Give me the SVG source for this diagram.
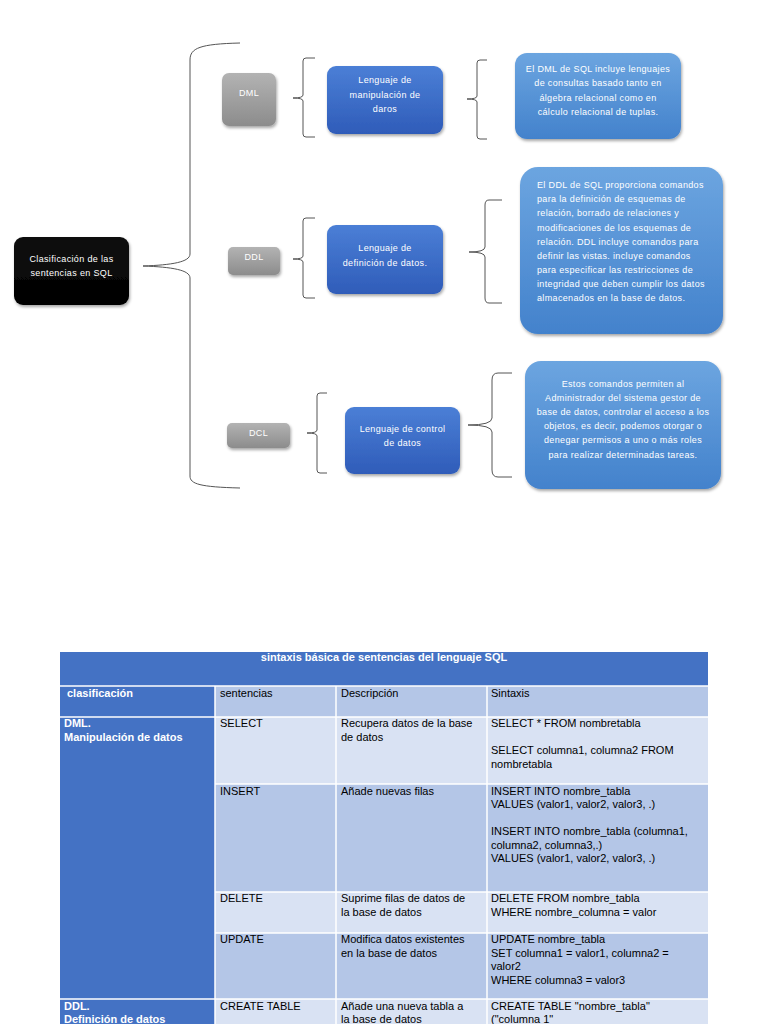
<svg xmlns="http://www.w3.org/2000/svg" width="768" height="1024" viewBox="0 0 768 1024">
<defs>
<linearGradient id="gGray" x1="0" y1="0" x2="0" y2="1"><stop offset="0" stop-color="#b3b3b3"/><stop offset="1" stop-color="#8c8c8c"/></linearGradient>
<linearGradient id="gBlue" x1="0" y1="0" x2="0" y2="1"><stop offset="0" stop-color="#4b7fd6"/><stop offset="1" stop-color="#2f5cb9"/></linearGradient>
<linearGradient id="gLight" x1="0" y1="0" x2="0" y2="1"><stop offset="0" stop-color="#6ca5e0"/><stop offset="1" stop-color="#4382cc"/></linearGradient>
<linearGradient id="gBlack" x1="0" y1="0" x2="0" y2="1"><stop offset="0" stop-color="#111"/><stop offset="1" stop-color="#000"/></linearGradient>
<filter id="sh" x="-20%" y="-20%" width="140%" height="150%"><feDropShadow dx="1" dy="2" stdDeviation="1.5" flood-color="#000" flood-opacity="0.35"/></filter>
</defs>
<style>
.br{fill:none;stroke:#555;stroke-width:1}
.bt{font-family:"Liberation Sans",Arial,sans-serif;font-size:9px;fill:#fff;letter-spacing:0.35px}
.tt{font-family:"Liberation Sans",Arial,sans-serif;font-size:11px;fill:#000}
.tw{font-family:"Liberation Sans",Arial,sans-serif;font-size:11px;fill:#fff;font-weight:bold}
.cl{stroke:#fff;stroke-width:1.5}
</style>
<g id="connectors">
<path class="br" d="M240,43 C200,44 190,48 190,60 L190,254 C190,262 172,265 143,266 C172,267 190,270 190,278 L190,476 C190,484 200,487 240,488"/>
<path class="br" d="M315,58 L306,58 Q303,58 303,61 L303,95 Q303,98 293,98 Q303,98 303,101 L303,134 Q303,137 306,137 L315,137"/>
<path class="br" d="M315,218 L306,218 Q303,218 303,221 L303,256 Q303,259 293,259 Q303,259 303,262 L303,295 Q303,298 306,298 L315,298"/>
<path class="br" d="M327,393 L320,393 Q317,393 317,396 L317,430 Q317,433 307,433 Q317,433 317,436 L317,470 Q317,473 320,473 L327,473"/>
<path class="br" d="M487,60 L480,60 Q477,60 477,63 L477,96 Q477,99 467,99 Q477,99 477,102 L477,136 Q477,139 480,139 L487,139"/>
<path class="br" d="M502,200 L489,200 Q485,200 485,205 L485,247 Q485,252 469,252 Q485,252 485,257 L485,298 Q485,303 489,303 L502,303"/>
<path class="br" d="M512,373 L498,373 Q492,373 492,380 L492,418 Q492,425 468,425 Q492,425 492,432 L492,470 Q492,477 498,477 L512,477"/>
</g>
<g id="root">
<rect x="14" y="237" width="115" height="68" rx="9" fill="url(#gBlack)" filter="url(#sh)"/>
<text class="bt" x="71.5" y="262" text-anchor="middle">Clasificación de las</text>
<text class="bt" x="71.5" y="276" text-anchor="middle">sentencias en SQL</text>
</g>
<g id="dml">
<rect x="222" y="73" width="54" height="53" rx="7" fill="url(#gGray)" filter="url(#sh)"/>
<text class="bt" x="249" y="96" text-anchor="middle">DML</text>
</g>
<g id="ddl">
<rect x="228" y="247" width="52" height="28" rx="5" fill="url(#gGray)" filter="url(#sh)"/>
<text class="bt" x="254" y="260" text-anchor="middle">DDL</text>
</g>
<g id="dcl">
<rect x="227" y="423" width="63" height="25" rx="5" fill="url(#gGray)" filter="url(#sh)"/>
<text class="bt" x="258.5" y="436" text-anchor="middle">DCL</text>
</g>
<g id="dml-lang">
<rect x="327" y="66" width="116" height="68" rx="9" fill="url(#gBlue)" filter="url(#sh)"/>
<text class="bt" x="385" y="83" text-anchor="middle">Lenguaje de</text>
<text class="bt" x="385" y="98" text-anchor="middle">manipulación de</text>
<text class="bt" x="385" y="112" text-anchor="middle">daros</text>
</g>
<g id="ddl-lang">
<rect x="327" y="225" width="116" height="69" rx="9" fill="url(#gBlue)" filter="url(#sh)"/>
<text class="bt" x="385" y="251" text-anchor="middle">Lenguaje de</text>
<text class="bt" x="385" y="266" text-anchor="middle">definición de datos.</text>
</g>
<g id="dcl-lang">
<rect x="345" y="407" width="115" height="67" rx="9" fill="url(#gBlue)" filter="url(#sh)"/>
<text class="bt" x="402.5" y="432" text-anchor="middle">Lenguaje de control</text>
<text class="bt" x="402.5" y="446" text-anchor="middle">de datos</text>
</g>
<g id="dml-desc">
<rect x="515" y="53" width="166" height="86" rx="12" fill="url(#gLight)" filter="url(#sh)"/>
<text class="bt" x="598" y="72" text-anchor="middle">El DML de SQL incluye lenguajes</text>
<text class="bt" x="598" y="86" text-anchor="middle">de consultas basado tanto en</text>
<text class="bt" x="598" y="101" text-anchor="middle">álgebra relacional como en</text>
<text class="bt" x="598" y="115" text-anchor="middle">cálculo relacional de tuplas.</text>
</g>
<g id="ddl-desc">
<rect x="520" y="167" width="203" height="167" rx="18" fill="url(#gLight)" filter="url(#sh)"/>
<text class="bt" x="537" y="188">El DDL de SQL proporciona comandos</text>
<text class="bt" x="537" y="202">para la definición de esquemas de</text>
<text class="bt" x="537" y="216">relación, borrado de relaciones y</text>
<text class="bt" x="537" y="231">modificaciones de los esquemas de</text>
<text class="bt" x="537" y="245">relación. DDL incluye comandos para</text>
<text class="bt" x="537" y="259">definir las vistas. incluye comandos</text>
<text class="bt" x="537" y="273">para especificar las restricciones de</text>
<text class="bt" x="537" y="287">integridad que deben cumplir los datos</text>
<text class="bt" x="537" y="301">almacenados en la base de datos.</text>
</g>
<g id="dcl-desc">
<rect x="525" y="361" width="196" height="128" rx="16" fill="url(#gLight)" filter="url(#sh)"/>
<text class="bt" x="623" y="387" text-anchor="middle">Estos comandos permiten al</text>
<text class="bt" x="623" y="401" text-anchor="middle">Administrador del sistema gestor de</text>
<text class="bt" x="623" y="415" text-anchor="middle">base de datos, controlar el acceso a los</text>
<text class="bt" x="623" y="429" text-anchor="middle">objetos, es decir, podemos otorgar o</text>
<text class="bt" x="623" y="443" text-anchor="middle">denegar permisos a uno o más roles</text>
<text class="bt" x="623" y="458" text-anchor="middle">para realizar determinadas tareas.</text>
</g>
<g id="table">
<rect x="60" y="652" width="648" height="34" fill="#4472c4"/>
<rect x="60" y="686" width="155" height="31" fill="#4472c4"/>
<rect x="215" y="686" width="493" height="31" fill="#b4c6e7"/>
<rect x="60" y="717" width="155" height="282" fill="#4472c4"/>
<rect x="60" y="999" width="155" height="30" fill="#4472c4"/>
<rect x="215" y="717" width="493" height="67" fill="#d9e2f3"/>
<rect x="215" y="784" width="493" height="108" fill="#b4c6e7"/>
<rect x="215" y="892" width="493" height="41" fill="#d9e2f3"/>
<rect x="215" y="933" width="493" height="66" fill="#b4c6e7"/>
<rect x="215" y="999" width="493" height="30" fill="#d9e2f3"/>
<line class="cl" x1="60" y1="686" x2="708" y2="686"/>
<line class="cl" x1="60" y1="717" x2="708" y2="717"/>
<line class="cl" x1="215" y1="784" x2="708" y2="784"/>
<line class="cl" x1="215" y1="892" x2="708" y2="892"/>
<line class="cl" x1="215" y1="933" x2="708" y2="933"/>
<line class="cl" x1="60" y1="999" x2="708" y2="999"/>
<line class="cl" x1="215" y1="686" x2="215" y2="1024"/>
<line class="cl" x1="336" y1="686" x2="336" y2="1024"/>
<line class="cl" x1="487" y1="686" x2="487" y2="1024"/>
<text class="tw" x="384" y="661" text-anchor="middle">sintaxis básica de sentencias del lenguaje SQL</text>
<text class="tw" x="67" y="697">clasificación</text>
<text class="tt" x="220" y="697">sentencias</text>
<text class="tt" x="341" y="697">Descripción</text>
<text class="tt" x="491" y="697">Sintaxis</text>
<text class="tw" x="64" y="727">DML.</text>
<text class="tw" x="64" y="741">Manipulación de datos</text>
<text class="tt" x="220" y="727">SELECT</text>
<text class="tt" x="341" y="727">Recupera datos de la base</text>
<text class="tt" x="341" y="741">de datos</text>
<text class="tt" x="491" y="727">SELECT * FROM nombretabla</text>
<text class="tt" x="491" y="754">SELECT columna1, columna2 FROM</text>
<text class="tt" x="491" y="768">nombretabla</text>
<text class="tt" x="220" y="795">INSERT</text>
<text class="tt" x="341" y="795">Añade nuevas filas</text>
<text class="tt" x="491" y="795">INSERT INTO nombre_tabla</text>
<text class="tt" x="491" y="808">VALUES (valor1, valor2, valor3, .)</text>
<text class="tt" x="491" y="835">INSERT INTO nombre_tabla (columna1,</text>
<text class="tt" x="491" y="849">columna2, columna3,.)</text>
<text class="tt" x="491" y="862">VALUES (valor1, valor2, valor3, .)</text>
<text class="tt" x="220" y="902">DELETE</text>
<text class="tt" x="341" y="902">Suprime filas de datos de</text>
<text class="tt" x="341" y="916">la base de datos</text>
<text class="tt" x="491" y="902">DELETE FROM nombre_tabla</text>
<text class="tt" x="491" y="916">WHERE nombre_columna = valor</text>
<text class="tt" x="220" y="943">UPDATE</text>
<text class="tt" x="341" y="943">Modifica datos existentes</text>
<text class="tt" x="341" y="957">en la base de datos</text>
<text class="tt" x="491" y="943">UPDATE nombre_tabla</text>
<text class="tt" x="491" y="957">SET columna1 = valor1, columna2 =</text>
<text class="tt" x="491" y="970">valor2</text>
<text class="tt" x="491" y="984">WHERE columna3 = valor3</text>
<text class="tw" x="64" y="1010">DDL.</text>
<text class="tw" x="64" y="1023">Definición de datos</text>
<text class="tt" x="220" y="1010">CREATE TABLE</text>
<text class="tt" x="341" y="1010">Añade una nueva tabla a</text>
<text class="tt" x="341" y="1023">la base de datos</text>
<text class="tt" x="491" y="1010">CREATE TABLE "nombre_tabla"</text>
<text class="tt" x="491" y="1023">("columna 1"</text>
</g>
</svg>
